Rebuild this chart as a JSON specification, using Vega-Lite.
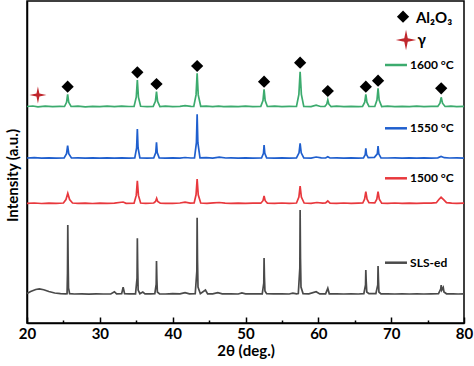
{
"$schema":"https://vega.github.io/schema/vega-lite/v6.json",
"autosize":{"type":"none"},
"padding":{"left":27,"top":1,"right":10,"bottom":43},
"width":437,"height":322,
"config":{"view":{"stroke":"black","strokeWidth":1.5},"font":"Lato",
"axis":{"domainColor":"black","domainWidth":1.5,"tickColor":"black","tickWidth":1.5,"grid":false,"labelFont":"Lato","labelFontWeight":"bold","labelFontSize":15,"labelColor":"black","titleFont":"Lato","titleFontWeight":"bold","titleFontSize":15,"titleColor":"black"}},
"datasets":{
"traces":[
{"s":"1600","x":20,"y":216.5},{"s":"1600","x":20.8,"y":217},{"s":"1600","x":21.5,"y":216.2},{"s":"1600","x":22.5,"y":216.8},{"s":"1600","x":23.5,"y":216.3},{"s":"1600","x":24.5,"y":216.7},{"s":"1600","x":25.15,"y":216.5},{"s":"1600","x":25.43,"y":220.7},{"s":"1600","x":25.58,"y":228.7},{"s":"1600","x":25.73,"y":220.7},{"s":"1600","x":26.05,"y":216.5},{"s":"1600","x":27,"y":216.8},{"s":"1600","x":28,"y":216.2},{"s":"1600","x":29,"y":216.7},{"s":"1600","x":30,"y":216.3},{"s":"1600","x":31,"y":216.8},{"s":"1600","x":32,"y":216.4},{"s":"1600","x":33,"y":216.9},{"s":"1600","x":34,"y":216.5},{"s":"1600","x":34.7,"y":216.6},{"s":"1600","x":35.0,"y":225.8},{"s":"1600","x":35.15,"y":243},{"s":"1600","x":35.3,"y":225.8},{"s":"1600","x":35.6,"y":216.7},{"s":"1600","x":36.5,"y":216.4},{"s":"1600","x":37.33,"y":216.6},{"s":"1600","x":37.63,"y":221.7},{"s":"1600","x":37.78,"y":231.3},{"s":"1600","x":37.93,"y":221.7},{"s":"1600","x":38.25,"y":216.5},{"s":"1600","x":39,"y":216.8},{"s":"1600","x":40,"y":216.3},{"s":"1600","x":41,"y":216.7},{"s":"1600","x":41.7,"y":217.3},{"s":"1600","x":42.5,"y":216.6},{"s":"1600","x":42.9,"y":216.5},{"s":"1600","x":43.21,"y":228.1},{"s":"1600","x":43.36,"y":249.7},{"s":"1600","x":43.51,"y":228.1},{"s":"1600","x":43.85,"y":216.7},{"s":"1600","x":44.6,"y":216.8},{"s":"1600","x":45.5,"y":216.3},{"s":"1600","x":46.3,"y":216.9},{"s":"1600","x":47,"y":216.4},{"s":"1600","x":48,"y":216.7},{"s":"1600","x":49,"y":216.3},{"s":"1600","x":50,"y":216.8},{"s":"1600","x":51,"y":216.4},{"s":"1600","x":52.1,"y":216.6},{"s":"1600","x":52.4,"y":222.5},{"s":"1600","x":52.55,"y":233.7},{"s":"1600","x":52.7,"y":222.5},{"s":"1600","x":53.0,"y":216.5},{"s":"1600","x":54,"y":216.8},{"s":"1600","x":55,"y":216.3},{"s":"1600","x":56,"y":216.7},{"s":"1600","x":57.0,"y":216.5},{"s":"1600","x":57.33,"y":228.7},{"s":"1600","x":57.5,"y":251.3},{"s":"1600","x":57.67,"y":228.7},{"s":"1600","x":58.0,"y":216.6},{"s":"1600","x":59,"y":216.4},{"s":"1600","x":59.7,"y":217.8},{"s":"1600","x":60.3,"y":216.5},{"s":"1600","x":60.9,"y":216.6},{"s":"1600","x":61.15,"y":218.8},{"s":"1600","x":61.3,"y":223},{"s":"1600","x":61.45,"y":218.8},{"s":"1600","x":61.75,"y":216.4},{"s":"1600","x":62.5,"y":216.8},{"s":"1600","x":63.5,"y":216.3},{"s":"1600","x":64.5,"y":216.7},{"s":"1600","x":65.5,"y":216.4},{"s":"1600","x":66.07,"y":216.6},{"s":"1600","x":66.37,"y":220.8},{"s":"1600","x":66.52,"y":228.7},{"s":"1600","x":66.67,"y":220.8},{"s":"1600","x":66.95,"y":216.7},{"s":"1600","x":67.75,"y":216.5},{"s":"1600","x":68.05,"y":222.9},{"s":"1600","x":68.2,"y":234.7},{"s":"1600","x":68.35,"y":222.9},{"s":"1600","x":68.7,"y":216.5},{"s":"1600","x":69.5,"y":216.8},{"s":"1600","x":70.5,"y":216.3},{"s":"1600","x":71.5,"y":216.7},{"s":"1600","x":72.5,"y":216.4},{"s":"1600","x":73.5,"y":216.8},{"s":"1600","x":74.5,"y":216.3},{"s":"1600","x":75.5,"y":216.7},{"s":"1600","x":76.4,"y":216.6},{"s":"1600","x":76.7,"y":219.8},{"s":"1600","x":76.87,"y":225.7},{"s":"1600","x":77.05,"y":219.8},{"s":"1600","x":77.4,"y":216.5},{"s":"1600","x":78.2,"y":216.8},{"s":"1600","x":79,"y":216.4},{"s":"1600","x":80,"y":216.6},
{"s":"1550","x":20,"y":165},{"s":"1550","x":21,"y":165.3},{"s":"1550","x":22,"y":164.8},{"s":"1550","x":23,"y":165.2},{"s":"1550","x":24,"y":164.9},{"s":"1550","x":25.1,"y":165.1},{"s":"1550","x":25.43,"y":169.3},{"s":"1550","x":25.58,"y":177.3},{"s":"1550","x":25.73,"y":169.3},{"s":"1550","x":26.1,"y":165},{"s":"1550","x":27,"y":165.2},{"s":"1550","x":28,"y":164.8},{"s":"1550","x":29,"y":165.1},{"s":"1550","x":30,"y":164.9},{"s":"1550","x":31,"y":165.2},{"s":"1550","x":32,"y":164.8},{"s":"1550","x":33,"y":165.2},{"s":"1550","x":34,"y":164.9},{"s":"1550","x":34.8,"y":165},{"s":"1550","x":35.05,"y":175},{"s":"1550","x":35.15,"y":194},{"s":"1550","x":35.25,"y":175},{"s":"1550","x":35.5,"y":165.1},{"s":"1550","x":36.5,"y":164.9},{"s":"1550","x":37.4,"y":165},{"s":"1550","x":37.68,"y":170.5},{"s":"1550","x":37.78,"y":180.7},{"s":"1550","x":37.88,"y":170.5},{"s":"1550","x":38.15,"y":165.1},{"s":"1550","x":39,"y":164.8},{"s":"1550","x":40,"y":165.2},{"s":"1550","x":41,"y":164.9},{"s":"1550","x":41.7,"y":165.5},{"s":"1550","x":42.5,"y":165},{"s":"1550","x":43.0,"y":165.1},{"s":"1550","x":43.26,"y":180.3},{"s":"1550","x":43.36,"y":208.7},{"s":"1550","x":43.46,"y":180.3},{"s":"1550","x":43.75,"y":165.2},{"s":"1550","x":44.6,"y":165.4},{"s":"1550","x":45.5,"y":164.9},{"s":"1550","x":46.4,"y":165.8},{"s":"1550","x":47.3,"y":165},{"s":"1550","x":48,"y":165.2},{"s":"1550","x":49,"y":164.8},{"s":"1550","x":50,"y":165.1},{"s":"1550","x":51,"y":164.9},{"s":"1550","x":52.2,"y":165},{"s":"1550","x":52.47,"y":169.6},{"s":"1550","x":52.55,"y":178},{"s":"1550","x":52.65,"y":169.6},{"s":"1550","x":52.9,"y":165.1},{"s":"1550","x":54,"y":164.9},{"s":"1550","x":55,"y":165.2},{"s":"1550","x":56,"y":164.9},{"s":"1550","x":57.0,"y":165.2},{"s":"1550","x":57.35,"y":170.2},{"s":"1550","x":57.5,"y":179.7},{"s":"1550","x":57.65,"y":170.2},{"s":"1550","x":58.0,"y":165.2},{"s":"1550","x":59,"y":164.9},{"s":"1550","x":59.7,"y":166},{"s":"1550","x":60.4,"y":165.1},{"s":"1550","x":61.0,"y":165},{"s":"1550","x":61.3,"y":166.3},{"s":"1550","x":61.6,"y":165},{"s":"1550","x":62.5,"y":165.2},{"s":"1550","x":63.5,"y":164.9},{"s":"1550","x":64.5,"y":165.1},{"s":"1550","x":65.5,"y":164.8},{"s":"1550","x":66.2,"y":165.1},{"s":"1550","x":66.44,"y":168.4},{"s":"1550","x":66.52,"y":174.7},{"s":"1550","x":66.62,"y":168.4},{"s":"1550","x":66.85,"y":165.4},{"s":"1550","x":67.7,"y":165.6},{"s":"1550","x":68.1,"y":169.2},{"s":"1550","x":68.2,"y":177},{"s":"1550","x":68.3,"y":169.2},{"s":"1550","x":68.6,"y":165.2},{"s":"1550","x":69.5,"y":165},{"s":"1550","x":70.5,"y":165.2},{"s":"1550","x":71.5,"y":164.9},{"s":"1550","x":72.5,"y":165.1},{"s":"1550","x":73.5,"y":164.9},{"s":"1550","x":74.5,"y":165.2},{"s":"1550","x":75.5,"y":164.9},{"s":"1550","x":76.4,"y":165.2},{"s":"1550","x":76.85,"y":166.5},{"s":"1550","x":77.3,"y":165.3},{"s":"1550","x":78,"y":165},{"s":"1550","x":79,"y":165.1},{"s":"1550","x":80,"y":164.9},
{"s":"1500","x":20,"y":119.7},{"s":"1500","x":21,"y":120},{"s":"1500","x":22,"y":119.5},{"s":"1500","x":23,"y":119.9},{"s":"1500","x":24,"y":119.6},{"s":"1500","x":25.0,"y":120},{"s":"1500","x":25.35,"y":123.5},{"s":"1500","x":25.6,"y":129.7},{"s":"1500","x":25.85,"y":123.5},{"s":"1500","x":26.25,"y":120},{"s":"1500","x":27,"y":119.6},{"s":"1500","x":28,"y":119.9},{"s":"1500","x":29,"y":119.5},{"s":"1500","x":30,"y":119.8},{"s":"1500","x":31,"y":119.6},{"s":"1500","x":32,"y":119.9},{"s":"1500","x":33.2,"y":121},{"s":"1500","x":33.6,"y":119.7},{"s":"1500","x":34.7,"y":119.8},{"s":"1500","x":35.0,"y":127.6},{"s":"1500","x":35.15,"y":142.3},{"s":"1500","x":35.3,"y":127.6},{"s":"1500","x":35.6,"y":120},{"s":"1500","x":36.3,"y":119.6},{"s":"1500","x":37.4,"y":120},{"s":"1500","x":37.65,"y":121.5},{"s":"1500","x":37.8,"y":124.7},{"s":"1500","x":37.95,"y":121.5},{"s":"1500","x":38.3,"y":119.8},{"s":"1500","x":39,"y":119.7},{"s":"1500","x":40,"y":119.6},{"s":"1500","x":41,"y":120},{"s":"1500","x":41.7,"y":120.9},{"s":"1500","x":42.4,"y":119.8},{"s":"1500","x":42.95,"y":120},{"s":"1500","x":43.21,"y":128.2},{"s":"1500","x":43.36,"y":144},{"s":"1500","x":43.51,"y":128.2},{"s":"1500","x":43.85,"y":120},{"s":"1500","x":44.7,"y":119.6},{"s":"1500","x":45.6,"y":120.1},{"s":"1500","x":46.4,"y":120.5},{"s":"1500","x":47.2,"y":119.8},{"s":"1500","x":48,"y":119.6},{"s":"1500","x":49,"y":119.9},{"s":"1500","x":50,"y":119.6},{"s":"1500","x":51,"y":119.9},{"s":"1500","x":52.1,"y":119.8},{"s":"1500","x":52.4,"y":122.3},{"s":"1500","x":52.55,"y":127},{"s":"1500","x":52.7,"y":122.3},{"s":"1500","x":53.0,"y":119.9},{"s":"1500","x":54,"y":119.7},{"s":"1500","x":55,"y":120},{"s":"1500","x":56,"y":119.6},{"s":"1500","x":57.0,"y":120},{"s":"1500","x":57.33,"y":126},{"s":"1500","x":57.5,"y":137},{"s":"1500","x":57.67,"y":126},{"s":"1500","x":58.05,"y":120},{"s":"1500","x":59,"y":119.6},{"s":"1500","x":59.8,"y":120.5},{"s":"1500","x":60.6,"y":119.8},{"s":"1500","x":61.0,"y":120},{"s":"1500","x":61.3,"y":122},{"s":"1500","x":61.6,"y":119.9},{"s":"1500","x":62.5,"y":119.7},{"s":"1500","x":63.5,"y":120},{"s":"1500","x":64.5,"y":119.6},{"s":"1500","x":65.5,"y":119.9},{"s":"1500","x":66.1,"y":120},{"s":"1500","x":66.35,"y":123.8},{"s":"1500","x":66.52,"y":131.3},{"s":"1500","x":66.69,"y":123.8},{"s":"1500","x":66.95,"y":120.3},{"s":"1500","x":67.75,"y":120.2},{"s":"1500","x":68.03,"y":123.8},{"s":"1500","x":68.2,"y":131.3},{"s":"1500","x":68.37,"y":123.8},{"s":"1500","x":68.7,"y":119.9},{"s":"1500","x":69.5,"y":119.6},{"s":"1500","x":70.5,"y":120},{"s":"1500","x":71.5,"y":119.7},{"s":"1500","x":72.5,"y":119.9},{"s":"1500","x":73.5,"y":119.6},{"s":"1500","x":74.5,"y":119.9},{"s":"1500","x":75.5,"y":119.8},{"s":"1500","x":76.2,"y":120.3},{"s":"1500","x":76.55,"y":123.5},{"s":"1500","x":76.85,"y":125.7},{"s":"1500","x":77.2,"y":123.3},{"s":"1500","x":77.6,"y":120.4},{"s":"1500","x":78.3,"y":119.8},{"s":"1500","x":79,"y":119.6},{"s":"1500","x":80,"y":119.8},
{"s":"SLS","x":20,"y":29.5},{"s":"SLS","x":20.5,"y":31.5},{"s":"SLS","x":21.2,"y":33.5},{"s":"SLS","x":21.7,"y":34.2},{"s":"SLS","x":22.3,"y":33.3},{"s":"SLS","x":23,"y":31.5},{"s":"SLS","x":23.8,"y":30},{"s":"SLS","x":24.6,"y":29.3},{"s":"SLS","x":25.3,"y":29.1},{"s":"SLS","x":25.5,"y":29.2},{"s":"SLS","x":25.56,"y":50},{"s":"SLS","x":25.6,"y":98},{"s":"SLS","x":25.65,"y":60},{"s":"SLS","x":25.7,"y":35},{"s":"SLS","x":25.85,"y":29.3},{"s":"SLS","x":26.5,"y":29},{"s":"SLS","x":27.5,"y":29.2},{"s":"SLS","x":28.5,"y":28.9},{"s":"SLS","x":29.5,"y":29.1},{"s":"SLS","x":30.5,"y":29},{"s":"SLS","x":31.5,"y":29.1},{"s":"SLS","x":32.0,"y":31.3},{"s":"SLS","x":32.3,"y":29.1},{"s":"SLS","x":33.0,"y":29.3},{"s":"SLS","x":33.2,"y":35.7},{"s":"SLS","x":33.4,"y":29.4},{"s":"SLS","x":34.0,"y":29.1},{"s":"SLS","x":34.9,"y":29.2},{"s":"SLS","x":35.11,"y":45},{"s":"SLS","x":35.15,"y":84.7},{"s":"SLS","x":35.2,"y":55},{"s":"SLS","x":35.26,"y":33},{"s":"SLS","x":35.5,"y":29.3},{"s":"SLS","x":35.9,"y":31},{"s":"SLS","x":36.2,"y":29.2},{"s":"SLS","x":37.0,"y":29.1},{"s":"SLS","x":37.55,"y":29.3},{"s":"SLS","x":37.74,"y":39},{"s":"SLS","x":37.78,"y":62},{"s":"SLS","x":37.83,"y":44},{"s":"SLS","x":37.9,"y":31},{"s":"SLS","x":38.2,"y":29.2},{"s":"SLS","x":39,"y":29},{"s":"SLS","x":40,"y":29.3},{"s":"SLS","x":41,"y":29.1},{"s":"SLS","x":41.7,"y":30.4},{"s":"SLS","x":42.3,"y":29.1},{"s":"SLS","x":43.1,"y":29.3},{"s":"SLS","x":43.32,"y":52},{"s":"SLS","x":43.36,"y":105.3},{"s":"SLS","x":43.41,"y":63},{"s":"SLS","x":43.48,"y":36},{"s":"SLS","x":43.8,"y":29.3},{"s":"SLS","x":44.5,"y":33},{"s":"SLS","x":44.8,"y":29.2},{"s":"SLS","x":45.5,"y":29.1},{"s":"SLS","x":46.2,"y":30.3},{"s":"SLS","x":46.8,"y":29.1},{"s":"SLS","x":48,"y":29.2},{"s":"SLS","x":49,"y":29},{"s":"SLS","x":49.5,"y":30},{"s":"SLS","x":50,"y":29.1},{"s":"SLS","x":51,"y":29.2},{"s":"SLS","x":52.3,"y":29.1},{"s":"SLS","x":52.51,"y":40},{"s":"SLS","x":52.55,"y":65},{"s":"SLS","x":52.6,"y":46},{"s":"SLS","x":52.67,"y":32},{"s":"SLS","x":52.9,"y":29.3},{"s":"SLS","x":53.8,"y":29.1},{"s":"SLS","x":55,"y":29.2},{"s":"SLS","x":56,"y":29},{"s":"SLS","x":56.5,"y":29.8},{"s":"SLS","x":57.0,"y":29.2},{"s":"SLS","x":57.25,"y":29.4},{"s":"SLS","x":57.46,"y":55},{"s":"SLS","x":57.5,"y":113},{"s":"SLS","x":57.55,"y":65},{"s":"SLS","x":57.62,"y":36},{"s":"SLS","x":57.9,"y":29.4},{"s":"SLS","x":58.7,"y":29.1},{"s":"SLS","x":59.7,"y":31.3},{"s":"SLS","x":60.2,"y":29.1},{"s":"SLS","x":61.0,"y":29.2},{"s":"SLS","x":61.3,"y":34.7},{"s":"SLS","x":61.5,"y":29.2},{"s":"SLS","x":62.5,"y":29.1},{"s":"SLS","x":63.5,"y":29},{"s":"SLS","x":64.5,"y":29.2},{"s":"SLS","x":65.5,"y":29},{"s":"SLS","x":66.25,"y":29.3},{"s":"SLS","x":66.48,"y":38},{"s":"SLS","x":66.52,"y":53},{"s":"SLS","x":66.57,"y":42},{"s":"SLS","x":66.65,"y":31},{"s":"SLS","x":66.95,"y":29.3},{"s":"SLS","x":67.9,"y":29.3},{"s":"SLS","x":68.16,"y":38},{"s":"SLS","x":68.2,"y":57},{"s":"SLS","x":68.25,"y":44},{"s":"SLS","x":68.32,"y":31},{"s":"SLS","x":68.6,"y":29.2},{"s":"SLS","x":69.5,"y":29.1},{"s":"SLS","x":70.5,"y":29},{"s":"SLS","x":71.5,"y":29.2},{"s":"SLS","x":72.5,"y":29},{"s":"SLS","x":73.5,"y":29.1},{"s":"SLS","x":74.5,"y":29},{"s":"SLS","x":75.5,"y":29.2},{"s":"SLS","x":76.5,"y":29.3},{"s":"SLS","x":76.8,"y":34},{"s":"SLS","x":76.87,"y":38},{"s":"SLS","x":76.95,"y":33},{"s":"SLS","x":77.15,"y":35.5},{"s":"SLS","x":77.25,"y":31},{"s":"SLS","x":77.6,"y":29.2},{"s":"SLS","x":78.5,"y":29.1},{"s":"SLS","x":79.2,"y":29},{"s":"SLS","x":80,"y":29.2}
],
"diamonds":[
{"x":25.58,"y":236.3},{"x":35.15,"y":250.7},{"x":37.78,"y":239},{"x":43.36,"y":257},{"x":52.55,"y":241.3},{"x":57.5,"y":260.3},{"x":61.3,"y":232},{"x":66.52,"y":236.3},{"x":68.2,"y":242.3},{"x":76.87,"y":234.7},{"x":71.63,"y":306.3}
],
"gamma":[{"x":21.5,"y":228}],
"gammaKey":[{"x":72.04,"y":283}],
"keyLines":[
{"s":"1600","x":69.15,"x2":72.17,"y":258},
{"s":"1550","x":69.15,"x2":72.17,"y":194.7},
{"s":"1500","x":69.15,"x2":72.17,"y":144.7},
{"s":"SLS","x":69.15,"x2":72.17,"y":60.3}
],
"keyText":[
{"x":72.6,"y":258,"label":"1600 °C"},
{"x":72.6,"y":194.7,"label":"1550 °C"},
{"x":72.6,"y":144.7,"label":"1500 °C"},
{"x":72.6,"y":60.3,"label":"SLS-ed"}
],
"keyBig":[
{"x":73.4,"y":305,"label":"Al₂O₃"},
{"x":73.6,"y":283,"label":"γ"}
]
},
"encoding":{
"x":{"field":"x","type":"quantitative","scale":{"domain":[20,80],"nice":false,"zero":false},
"axis":{"title":"2θ (deg.)","values":[20,25,30,35,40,45,50,55,60,65,70,75,80],"labelExpr":"datum.value % 10 === 0 ? datum.label : ''","labelFlush":false,"labelOverlap":false,"tickSize":{"condition":{"test":"datum.value % 10 === 0","value":-6},"value":-3},"labelPadding":9,"titleBaseline":"middle","titleY":27}},
"y":{"field":"y","type":"quantitative","scale":{"domain":[0,322],"nice":false,"zero":false},
"axis":{"title":"Intensity (a.u.)","labels":false,"ticks":false,"titleX":-15,"titleY":174,"titleBaseline":"middle","titleAlign":"center","titleAngle":-90}}
},
"layer":[
{"data":{"name":"traces"},"mark":{"type":"line","strokeWidth":1.7},
"encoding":{"color":{"field":"s","type":"nominal","scale":{"domain":["1600","1550","1500","SLS"],"range":["#3cab6e","#1f5fce","#e8383d","#4a4a4a"]},"legend":null},"detail":{"field":"s"}}},
{"data":{"name":"keyLines"},"mark":{"type":"rule","strokeWidth":2.5},
"encoding":{"x2":{"field":"x2"},"color":{"field":"s","type":"nominal","legend":null}}},
{"data":{"name":"diamonds"},"mark":{"type":"point","shape":"diamond","filled":true,"color":"black","opacity":1,"size":150}},
{"data":{"name":"gamma"},"mark":{"type":"point","shape":"M0,-1L0.17,-0.17L1,0L0.17,0.17L0,1L-0.17,0.17L-1,0L-0.17,-0.17Z","filled":true,"color":"#c0272d","opacity":1,"size":290}},
{"data":{"name":"gammaKey"},"mark":{"type":"point","shape":"M0,-1L0.17,-0.17L1,0L0.17,0.17L0,1L-0.17,0.17L-1,0L-0.17,-0.17Z","filled":true,"color":"#c0272d","opacity":1,"size":420}},
{"data":{"name":"keyText"},"mark":{"type":"text","align":"left","baseline":"middle","fontSize":12,"fontWeight":"bold","font":"Lato","color":"black"},
"encoding":{"text":{"field":"label"}}},
{"data":{"name":"keyBig"},"mark":{"type":"text","align":"left","baseline":"middle","fontSize":15,"fontWeight":"bold","font":"Lato","color":"black"},
"encoding":{"text":{"field":"label"}}}
]
}
